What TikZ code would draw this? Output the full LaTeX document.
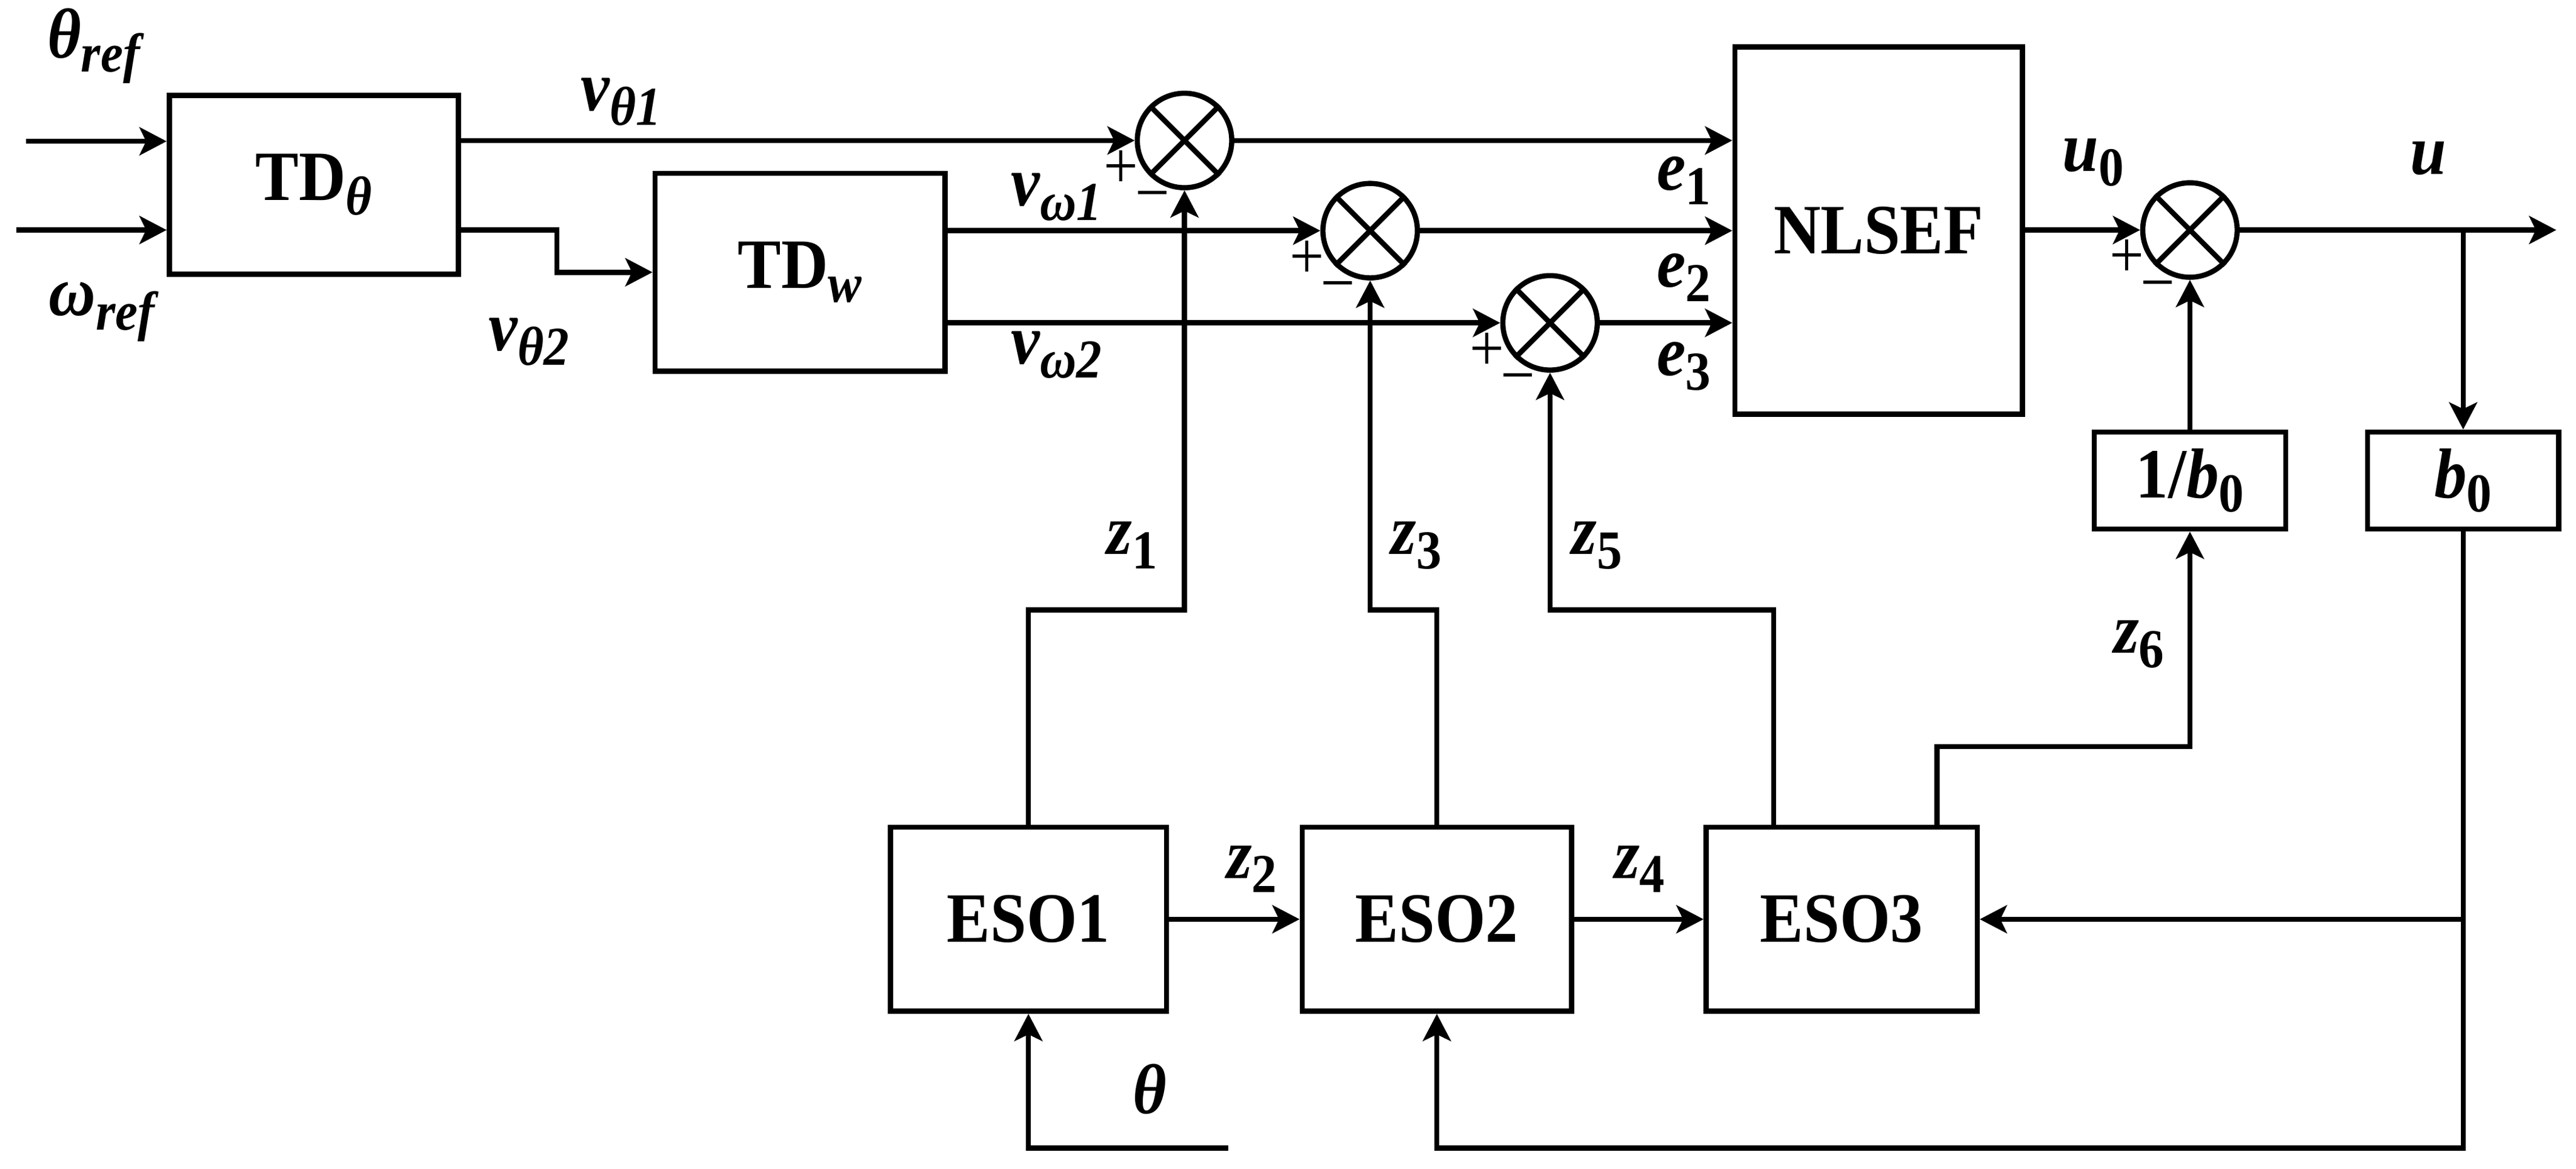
\documentclass[tikz,border=0pt]{standalone}
\usepackage{fontspec}
\setmainfont{Liberation Serif}[FakeStretch=0.92]
\usetikzlibrary{arrows.meta,calc}
\newcommand{\lab}{\fontsize{24.5}{26}\selectfont\bfseries\itshape}
\newcommand{\sbs}[1]{\raisebox{-5pt}{\fontsize{19}{19}\selectfont #1}}
\begin{document}
\begin{tikzpicture}[x=0.02cm,y=-0.02cm,
  box/.style={draw, line width=1.8pt, inner sep=0, font=\fontsize{24.5}{27}\selectfont\bfseries},
  sumc/.style={draw, circle, line width=1.8pt, minimum size=1.15cm, inner sep=0},
  sig/.style={line width=1.8pt},
  arr/.style={sig, -{Stealth[length=3.3mm,width=3.4mm,inset=0.8mm]}},
  lbl/.style={font=\lab, inner sep=0},
  pm/.style={font=\fontsize{23}{23}\selectfont, inner sep=0, text height=9pt, text depth=-2.5pt}]
\useasboundingbox (0,0) rectangle (1568,711.5);
% blocks
\node[box, minimum width=3.52cm, minimum height=2.18cm] (tdt) at (191,112.5) {TD\sbs{\textit{θ}}};
\node[box, minimum width=3.53cm, minimum height=2.41cm] (tdw) at (487,165.7) {TD\sbs{\textit{w}}};
\node[box, minimum width=3.5cm, minimum height=4.47cm] (nl) at (1143.5,140.3) {NLSEF};
\node[box, minimum width=2.33cm, minimum height=1.18cm] (ib) at (1333,292.5) {1/\textit{b}\sbs{0}};
\node[box, minimum width=2.33cm, minimum height=1.18cm] (bz) at (1499.3,292.5) {\textit{b}\sbs{0}};
\node[box, minimum width=3.36cm, minimum height=2.24cm] (eso1) at (626,559.5) {ESO1};
\node[box, minimum width=3.28cm, minimum height=2.24cm] (eso2) at (874.6,559.5) {ESO2};
\node[box, minimum width=3.3cm, minimum height=2.24cm] (eso3) at (1121,559.5) {ESO3};
% summing junctions
\foreach \n/\x/\y in {s1/721/85.5, s2/834/140.4, s3/943.5/196.5, s4/1333/140}{
  \node[sumc] (\n) at (\x,\y) {};
  \draw[line width=1.8pt] (\n.45) -- (\n.225) (\n.135) -- (\n.315);
  \node[pm] (\n p) at ($(\n)+(-38.5,21)$) {+};
  \node[pm] (\n m) at ($(\n)+(-19.5,37.5)$) {−};
}
% coordinates
\coordinate (in1) at (16,86);
\coordinate (in2) at (10,140);
\coordinate (k1) at (339,165.7);
\coordinate (out) at (1556,140);
\coordinate (br) at (1499.3,140);
\coordinate (bl) at (1499.3,698.7);
\coordinate (th) at (747.6,698.7);
\coordinate (x1) at (626,371.3);
\coordinate (x3) at (874.6,371.3);
\coordinate (x5) at (1079.6,371.3);
\coordinate (x6) at (1179,454.5);
% connectors
\draw[arr] (in1) -- (in1 -| tdt.west);
\draw[arr] (in2) -- (in2 -| tdt.west);
\draw[arr] (s1.west -| tdt.east) -- (s1.west);
\draw[arr] (in2 -| tdt.east) -| (k1) -- (tdw.west);
\draw[arr] (s2.west -| tdw.east) -- (s2.west);
\draw[arr] (s3.west -| tdw.east) -- (s3.west);
\draw[arr] (s1.east) -- (s1.east -| nl.west);
\draw[arr] (s2.east) -- (s2.east -| nl.west);
\draw[arr] (s3.east) -- (s3.east -| nl.west);
\draw[arr] (s4.west -| nl.east) -- (s4.west);
\draw[arr] (s4.east) -- (out);
\draw[arr] (br) -- (bz.north);
\draw[arr] (ib.north) -- (s4.south);
\draw[arr] (bz.south) -- (bl) -| (eso2.south);
\draw[arr] (eso3.east -| bz.south) -- (eso3.east);
\draw[arr] (eso1.east) -- (eso2.west);
\draw[arr] (eso2.east) -- (eso3.west);
\draw[arr] (th) -| (eso1.south);
\draw[arr] (eso1.north) -- (x1) -| (s1.south);
\draw[arr] (eso2.north) -- (x3) -| (s2.south);
\draw[arr] (eso3.north -| x5) -- (x5) -| (s3.south);
\draw[arr] (eso3.north -| x6) -- (x6) -| (ib.south);
% labels
\node[lbl] (lthr) at (57,28) {θ\sbs{ref}};
\node[lbl] (lwr) at (62,190) {ω\sbs{ref}};
\node[lbl] (lvt1) at (378,62) {v\sbs{θ1}};
\node[lbl] (lvt2) at (322,208) {v\sbs{θ2}};
\node[lbl] (lvw1) at (643,120) {v\sbs{ω1}};
\node[lbl] (lvw2) at (643,216) {v\sbs{ω2}};
\node[lbl] (le1) at (1025,110) {e\sbs{\textup{1}}};
\node[lbl] (le2) at (1025,169) {e\sbs{\textup{2}}};
\node[lbl] (le3) at (1025,223) {e\sbs{\textup{3}}};
\node[lbl] (lu0) at (1274,99) {u\sbs{\textup{0}}};
\node[lbl, anchor=base] (lu) at (1478,106) {u};
\node[lbl] (lz1) at (689,332) {z\sbs{\textup{1}}};
\node[lbl] (lz3) at (862,332) {z\sbs{\textup{3}}};
\node[lbl] (lz5) at (972,332) {z\sbs{\textup{5}}};
\node[lbl] (lz2) at (762,529) {z\sbs{\textup{2}}};
\node[lbl] (lz4) at (998,529) {z\sbs{\textup{4}}};
\node[lbl] (lz6) at (1302,392) {z\sbs{\textup{6}}};
\node[lbl] (lth) at (700,663) {θ};
\end{tikzpicture}
\end{document}
